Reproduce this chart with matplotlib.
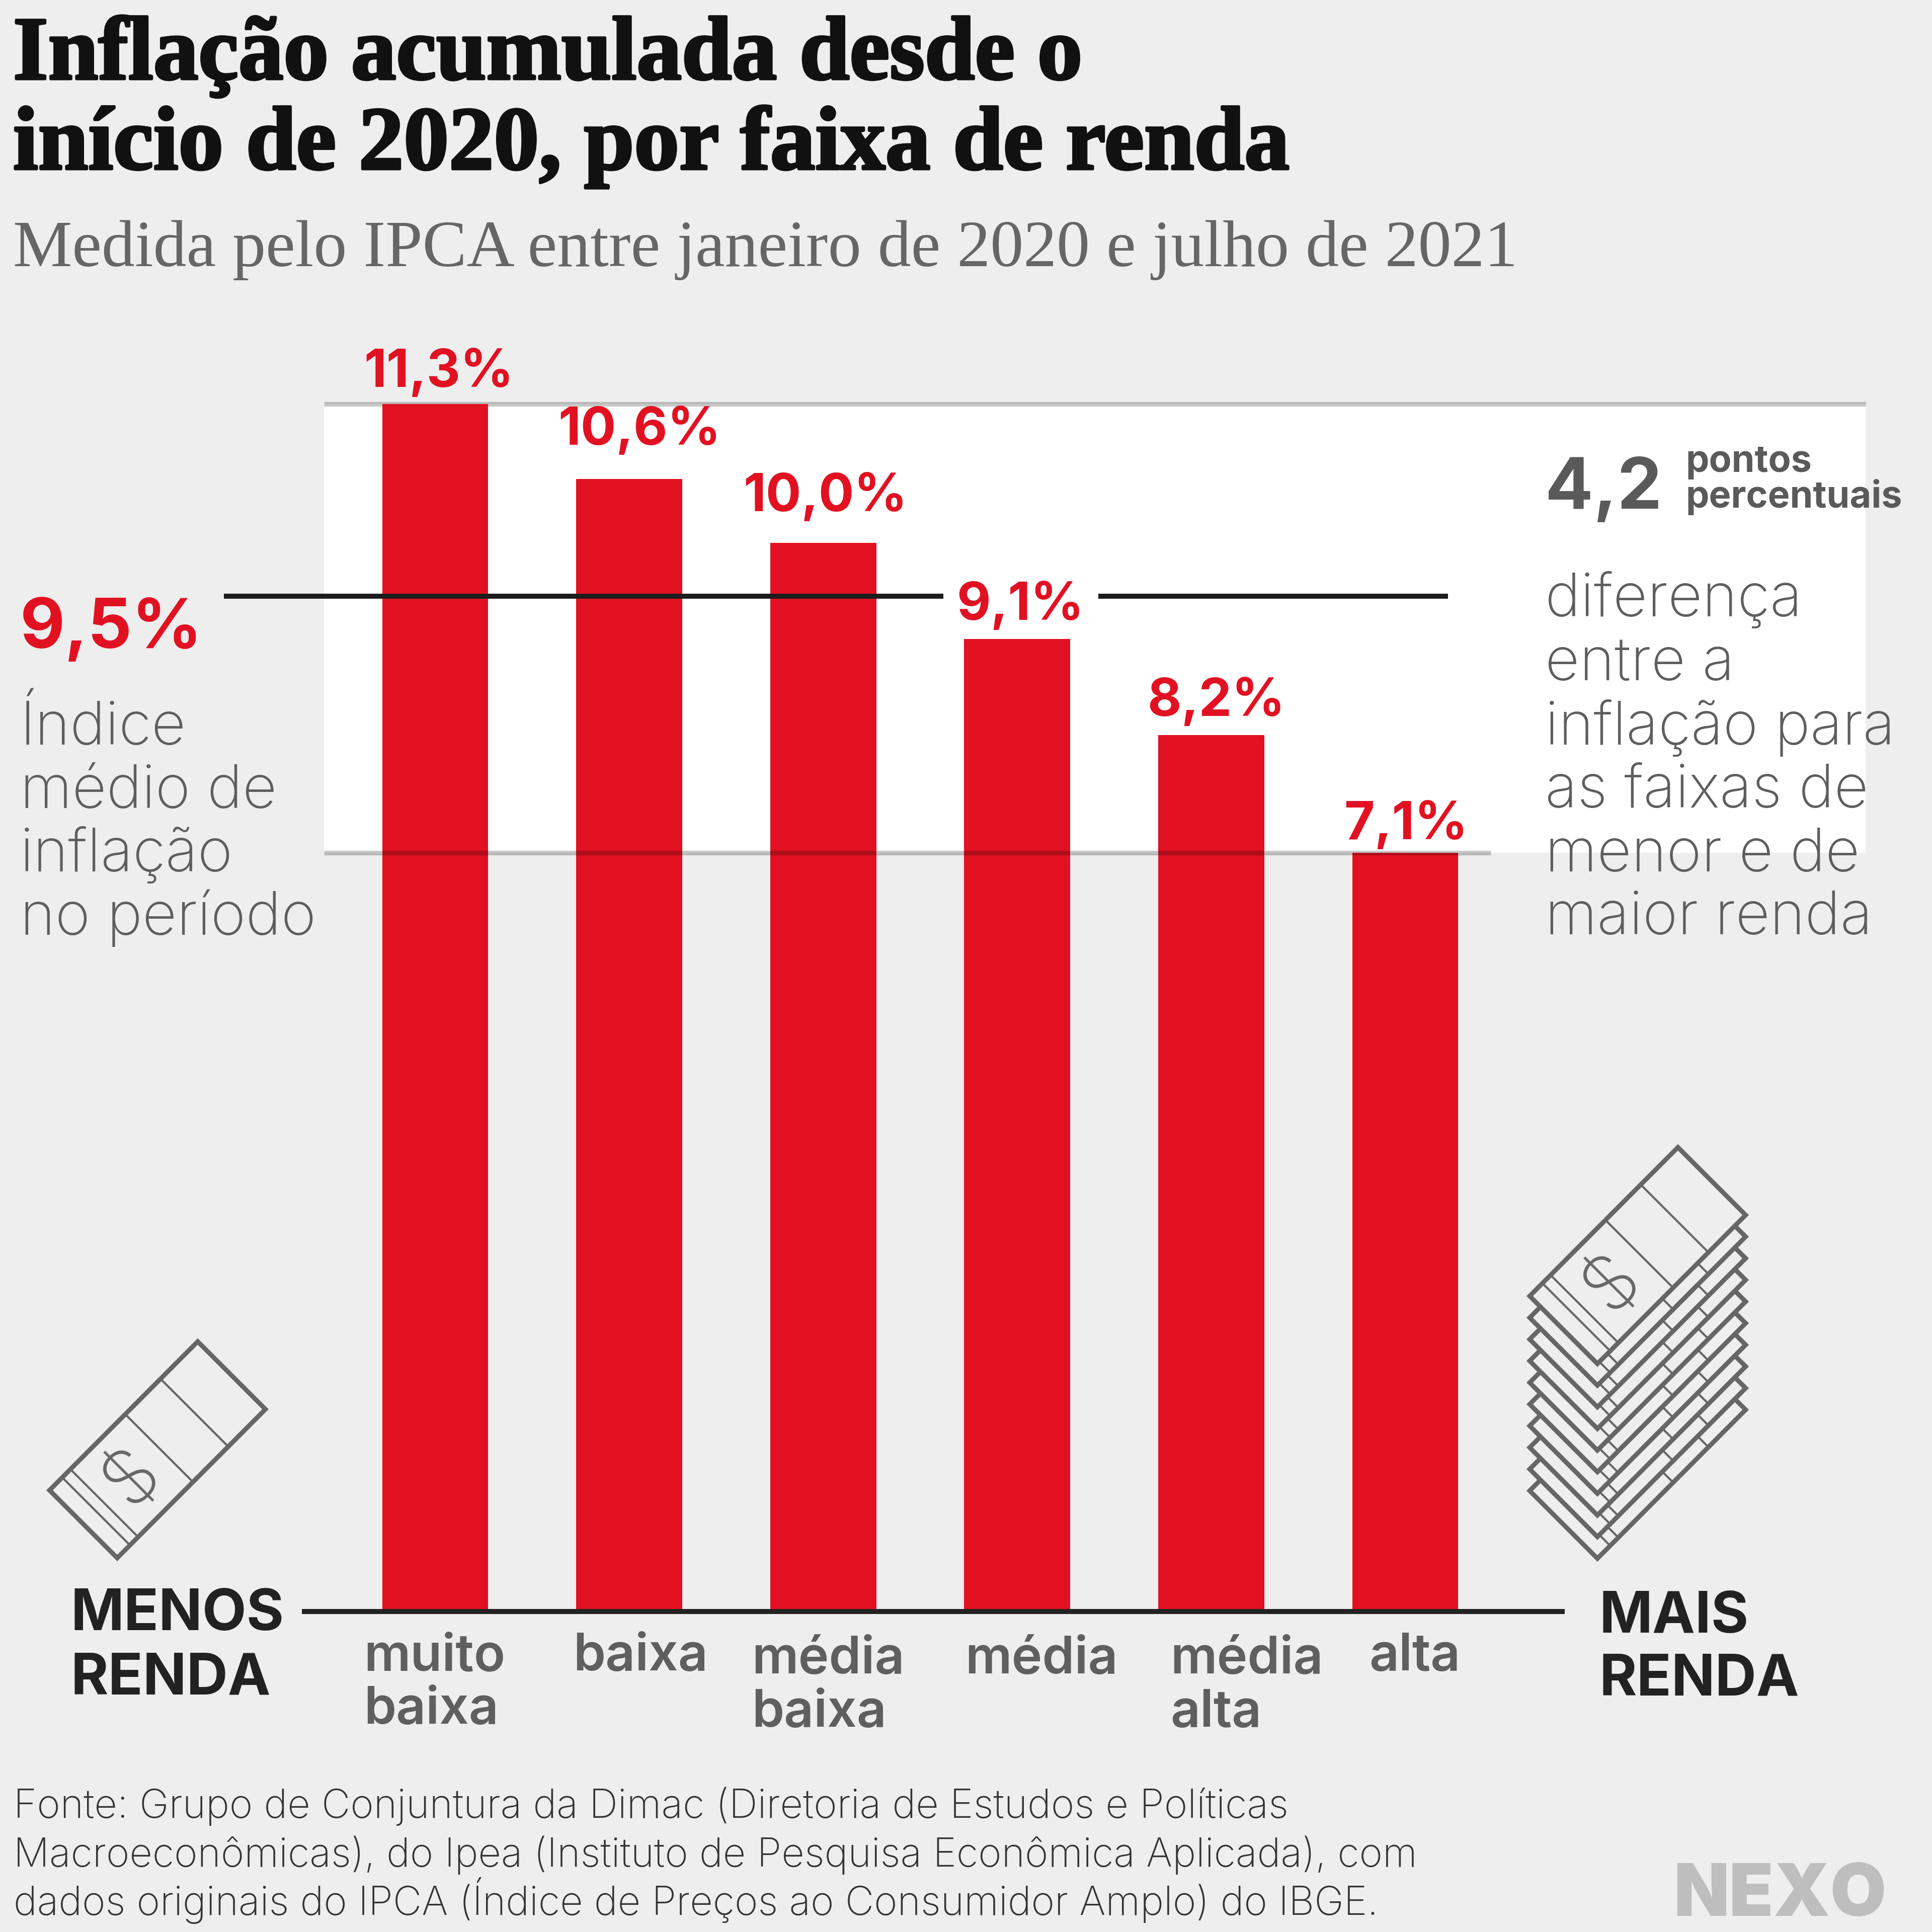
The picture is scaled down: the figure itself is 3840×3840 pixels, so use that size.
import matplotlib
matplotlib.use('Agg')
import matplotlib.pyplot as plt
import matplotlib.patheffects as pe
from matplotlib.patches import Polygon, Rectangle
from matplotlib.transforms import Affine2D

categories = ['muito\nbaixa', 'baixa', 'média\nbaixa', 'média', 'média\nalta', 'alta']
inflation = [11.3, 10.6, 10.0, 9.1, 8.2, 7.1]
average = 9.5
gap = 4.2

BG = '#EEEEEE'
RED = '#E21122'
GREY = '#666666'
TEXT_GREY = '#5E5E5E'
DARK = '#222222'
SANS = 'Inter'
SERIF = 'Liberation Serif'

W = 3840
fig = plt.figure(figsize=(12.8, 12.8), dpi=300, facecolor=BG)
ax = fig.add_axes([0, 0, 1, 1])
ax.set_facecolor('none')
ax.axis('off')

# one bar step is 385.6 px, one percentage point is 212.4 px
ax.set_xlim(-865 / 385.6, (W - 865) / 385.6)
ax.set_ylim(-(W - 3203) / 212.4, 3203 / 212.4)

# pixel coordinates, origin at the top left
px = Affine2D().scale(1 / W, -1 / W).translate(0, 1) + fig.transFigure


def label(x, y, s, size, color=GREY, weight='normal', family=SANS, ha='left', **kw):
    return ax.text(x, y, s, transform=px, fontsize=size, color=color, fontweight=weight,
                   family=family, ha=ha, va='baseline', zorder=6, **kw)


def block(x, baselines, lines, size, **kw):
    for y, s in zip(baselines, lines):
        label(x, y, s, size, **kw)


def bill(x, y, z):
    # banknote drawn from its left corner, long side up-right, short side down-right
    long_side = (294.6, -295.6)
    short_side = (134.6, 134.6)
    corners = [(x, y), (x + long_side[0], y + long_side[1]),
               (x + long_side[0] + short_side[0], y + long_side[1] + short_side[1]),
               (x + short_side[0], y + short_side[1])]
    ax.add_patch(Polygon(corners, closed=True, facecolor=BG, edgecolor=GREY, linewidth=2.2,
                         joinstyle='miter', transform=px, zorder=z))
    for t in [0.086, 0.141, 0.511, 0.749]:
        x0 = x + long_side[0] * t
        y0 = y + long_side[1] * t
        ax.plot([x0, x0 + short_side[0]], [y0, y0 + short_side[1]], color=GREY, linewidth=1.0,
                solid_capstyle='butt', transform=px, zorder=z)


def dollar(x, y, z):
    ax.text(x + 166, y - 24, '$', transform=px, fontsize=36, color=GREY, family=SANS,
            fontweight='light', rotation=45, rotation_mode='anchor', ha='center', va='center', zorder=z)


# white band between the highest and the lowest bar
yaxis = ax.get_yaxis_transform()
ax.add_patch(Rectangle((644 / W, inflation[-1]), (3708 - 644) / W, gap, facecolor='white',
                       edgecolor='none', transform=yaxis, zorder=1))
ax.hlines(inflation[0], 644 / W, 3708 / W, transform=yaxis, color='black',
          alpha=0.22, linewidth=2.2, zorder=2)

x = list(range(len(inflation)))
ax.bar(x, inflation, width=0.547, color=RED, zorder=3)

ax.hlines(inflation[-1], 644 / W, 2963 / W, transform=yaxis, color='black',
          alpha=0.22, linewidth=2.2, zorder=4)

# average line, broken around the label of the fourth bar
ax.hlines(average, 445 / W, 1875 / W, transform=yaxis, color='#1C1C1C', linewidth=2.4, zorder=4)
ax.hlines(average, 2183 / W, 2878 / W, transform=yaxis, color='#1C1C1C', linewidth=2.4, zorder=4)

# baseline
ax.hlines(0, 600 / W, 3110 / W, transform=yaxis, color=DARK, linewidth=2.4, zorder=4)

# value labels
value_x = [872, 1271, 1640, 2028, 2417, 2794]
value_y = [769, 884, 1016, 1232, 1423, 1668]
for vx, vy, v in zip(value_x, value_y, inflation):
    label(vx, vy, f'{v:.1f}%'.replace('.', ','), 25, color=RED, weight='bold', ha='center')

# category labels
cat_x = [723, 1139, 1494, 1918, 2326, 2721]
cat_y = [3320, 3320, 3326, 3326, 3326, 3320]
for cx, cy, c in zip(cat_x, cat_y, categories):
    for i, s in enumerate(c.split('\n')):
        label(cx, cy + i * 106, s, 24.7, weight='semibold', color='#5F5F5F')

# titles
stroke = [pe.withStroke(linewidth=1.2, foreground='#111111')]
label(26, 157, 'Inflação acumulada desde o', 43, color='#111111', weight='bold', family=SERIF,
      path_effects=stroke)
label(26, 336, 'início de 2020, por faixa de renda', 43, color='#111111', weight='bold', family=SERIF,
      path_effects=stroke)
label(26, 529, 'Medida pelo IPCA entre janeiro de 2020 e julho de 2021', 31.7, family=SERIF)

# left annotation
label(40, 1288, f'{average:.1f}%'.replace('.', ','), 33, color=RED, weight='bold')
block(40, [1480, 1606, 1732, 1858], ['Índice', 'médio de', 'inflação', 'no período'], 28.5,
      weight='light', color=TEXT_GREY)

# right annotation
label(3071, 1011, f'{gap:.1f}'.replace('.', ','), 34, weight='bold', color='#5A5A5A')
block(3350, [938, 1009], ['pontos', 'percentuais'], 17.7, weight='bold', color='#5A5A5A')
block(3071, [1225, 1352, 1480, 1605, 1732, 1857],
      ['diferença', 'entre a', 'inflação para', 'as faixas de', 'menor e de', 'maior renda'], 28.5,
      weight='light', color=TEXT_GREY)

# income ends
block(141, [3240, 3367], ['MENOS', 'RENDA'], 27.3, weight='bold', color=DARK)
block(3179, [3245, 3370], ['MAIS', 'RENDA'], 27.3, weight='bold', color=DARK)

# banknote icons
bill(98.4, 2962, 5)
dollar(98.4, 2962, 5)
for k in range(9, -1, -1):
    bill(3040.4, 2576 + 43 * k, 5)
dollar(3040.4, 2576, 5)

# source and logo
block(27, [3613, 3710, 3806],
      ['Fonte: Grupo de Conjuntura da Dimac (Diretoria de Estudos e Políticas',
       'Macroeconômicas), do Ipea (Instituto de Pesquisa Econômica Aplicada), com',
       'dados originais do IPCA (Índice de Preços ao Consumidor Amplo) do IBGE.'],
      19, color='#333333', weight='light')
label(3326, 3808, 'NEXO', 34.5, color='#BEBEBE', weight='black')

fig.savefig('out.png', dpi=300, facecolor=BG)
